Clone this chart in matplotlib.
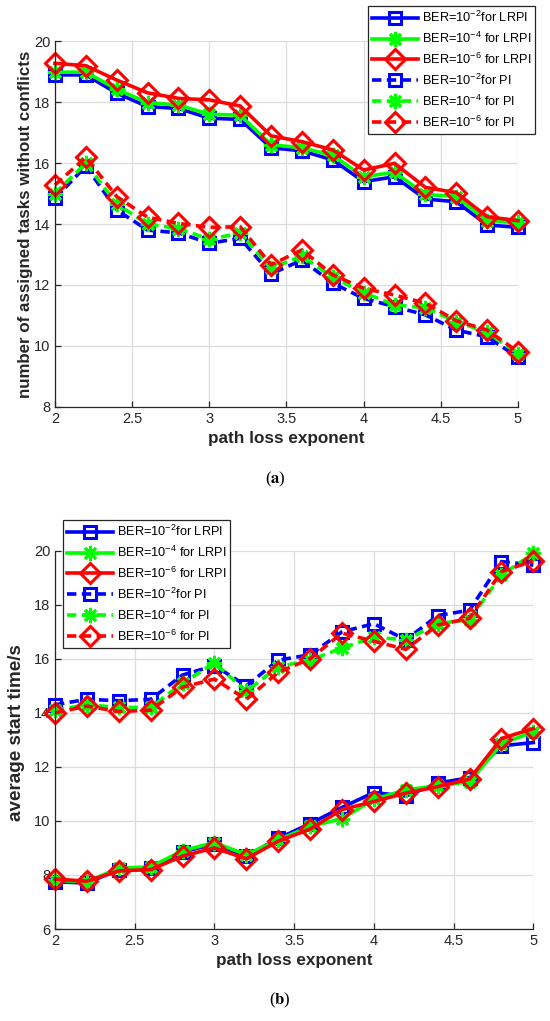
import matplotlib
matplotlib.use("Agg")
import matplotlib.pyplot as plt
import numpy as np

x = [2.0, 2.2, 2.4, 2.6, 2.8, 3.0, 3.2, 3.4, 3.6, 3.8, 4.0, 4.2, 4.4, 4.6, 4.8, 5.0]

labels = ['BER=10$^{-2}$for LRPI', 'BER=10$^{-4}$ for LRPI', 'BER=10$^{-6}$ for LRPI',
          'BER=10$^{-2}$for PI', 'BER=10$^{-4}$ for PI', 'BER=10$^{-6}$ for PI']

top_lrpi_1e2 = [18.89, 18.89, 18.29, 17.85, 17.79, 17.47, 17.43, 16.5, 16.4, 16.1, 15.39, 15.55, 14.82, 14.73, 13.97, 13.89]
top_lrpi_1e4 = [18.98, 18.98, 18.42, 17.98, 17.9, 17.6, 17.57, 16.6, 16.5, 16.25, 15.55, 15.7, 14.97, 14.9, 14.1, 14.05]
top_lrpi_1e6 = [19.27, 19.19, 18.72, 18.3, 18.12, 18.07, 17.87, 16.89, 16.7, 16.43, 15.77, 15.99, 15.2, 15.03, 14.24, 14.11]
top_pi_1e2 = [14.84, 15.9, 14.46, 13.8, 13.71, 13.37, 13.53, 12.36, 12.82, 12.06, 11.56, 11.29, 11.02, 10.52, 10.3, 9.63]
top_pi_1e4 = [15.0, 16.0, 14.65, 14.0, 13.85, 13.5, 13.7, 12.55, 12.95, 12.25, 11.75, 11.35, 11.25, 10.8, 10.45, 9.75]
top_pi_1e6 = [15.28, 16.19, 14.9, 14.22, 14.02, 13.89, 13.91, 12.66, 13.15, 12.33, 11.89, 11.67, 11.4, 10.83, 10.52, 9.81]

bot_lrpi_1e2 = [7.75, 7.7, 8.2, 8.25, 8.85, 9.15, 8.7, 9.35, 9.9, 10.5, 11.05, 10.92, 11.4, 11.6, 12.78, 12.9]
bot_lrpi_1e4 = [7.8, 7.75, 8.25, 8.3, 8.9, 9.2, 8.75, 9.3, 9.8, 10.08, 10.8, 11.15, 11.3, 11.45, 12.85, 13.3]
bot_lrpi_1e6 = [7.85, 7.77, 8.15, 8.2, 8.7, 9.0, 8.6, 9.25, 9.7, 10.42, 10.72, 11.03, 11.27, 11.55, 13.05, 13.42]
bot_pi_1e2 = [14.3, 14.5, 14.45, 14.5, 15.4, 15.75, 15.0, 15.95, 16.15, 17.0, 17.3, 16.7, 17.6, 17.8, 19.6, 19.47]
bot_pi_1e4 = [14.1, 14.3, 14.2, 14.2, 15.1, 15.85, 14.8, 15.7, 15.95, 16.4, 16.8, 16.7, 17.3, 17.45, 19.1, 19.9]
bot_pi_1e6 = [14.0, 14.25, 14.05, 14.1, 14.95, 15.25, 14.5, 15.5, 16.0, 16.95, 16.65, 16.35, 17.25, 17.5, 19.23, 19.62]

x_ticks = [2, 2.5, 3, 3.5, 4, 4.5, 5]
x_ticklabels = ['2', '2.5', '3', '3.5', '4', '4.5', '5']
top_yticks = [8, 10, 12, 14, 16, 18, 20]
bot_yticks = [6, 8, 10, 12, 14, 16, 18, 20]

plt.rcParams['font.family'] = ['Liberation Sans', 'DejaVu Sans']
plt.rcParams['mathtext.fontset'] = 'custom'
plt.rcParams['mathtext.rm'] = 'Liberation Sans'

fig = plt.figure(figsize=(5.5, 10.21), dpi=100)
ax1 = fig.add_axes([0.1, 0.6014, 0.8418, 0.3584])
ax2 = fig.add_axes([0.1, 0.0901, 0.8697, 0.3705])

colors = ['#0000ff', '#00ff00', '#ff0000']
markers = ['s', (8, 2, 0), 'D']
msizes = [9, 11, 10]
dash = (0, (2.6, 1.5))
axcol = '#262626'


def draw(ax, lrpi, pi):
    handles = []
    for ser, c, m, ms in zip(lrpi, colors, markers, msizes):
        h, = ax.plot(x, ser, color=c, marker=m, markersize=ms, markerfacecolor='none',
                     markeredgecolor=c, markeredgewidth=2.2, linewidth=2.6, linestyle='-',
                     clip_on=False)
        handles.append(h)
    for ser, c, m, ms in zip(pi, colors, markers, msizes):
        h, = ax.plot(x, ser, color=c, marker=m, markersize=ms, markerfacecolor='none',
                     markeredgecolor=c, markeredgewidth=2.2, linewidth=2.6, linestyle=dash,
                     clip_on=False)
        handles.append(h)
    ax.set_xlim(2, 5)
    ax.set_xticks(x_ticks)
    ax.set_xticklabels(x_ticklabels)
    ax.grid(True, color='#dcdcdc', linewidth=0.9)
    ax.set_axisbelow(True)
    for s in ['top', 'right']:
        ax.spines[s].set_visible(False)
    for s in ['left', 'bottom']:
        ax.spines[s].set_color(axcol)
        ax.spines[s].set_linewidth(0.9)
    ax.tick_params(direction='in', length=4, width=0.9, colors=axcol, labelsize=10.5, labelcolor=axcol)
    ax.set_xlabel('path loss exponent', fontsize=12.3, fontweight='bold', color=axcol, labelpad=4)
    return handles


h1 = draw(ax1, [top_lrpi_1e2, top_lrpi_1e4, top_lrpi_1e6], [top_pi_1e2, top_pi_1e4, top_pi_1e6])
ax1.set_ylim(8, 20)
ax1.set_yticks(top_yticks)
ax1.set_ylabel('number of assigned tasks without conflicts', fontsize=12.2, fontweight='bold', color=axcol)
ax1.yaxis.set_label_coords(-0.0475, 0.5)

h2 = draw(ax2, [bot_lrpi_1e2, bot_lrpi_1e4, bot_lrpi_1e6], [bot_pi_1e2, bot_pi_1e4, bot_pi_1e6])
ax2.set_ylim(6, 20)
ax2.set_yticks(bot_yticks)
ax2.set_ylabel('average start time/s', fontsize=13.6, fontweight='bold', color=axcol)
ax2.yaxis.set_label_coords(-0.062, 0.52)

leg_kw = dict(fontsize=9.2, handlelength=3.6, frameon=True, fancybox=False, borderpad=0.3,
              labelspacing=0.45, handletextpad=0.3, borderaxespad=0)
leg1 = fig.legend(h1, labels, loc='upper right', bbox_to_anchor=(535 / 550, 1 - 6 / 1021), **leg_kw)
leg2 = fig.legend(h2, labels, loc='upper left', bbox_to_anchor=(63 / 550, 1 - 520 / 1021), **leg_kw)
for lg in (leg1, leg2):
    lg.get_frame().set_edgecolor(axcol)
    lg.get_frame().set_linewidth(0.9)
    lg.get_frame().set_alpha(1)

fig.text(275 / 550, 1 - 479 / 1021, r'($\mathbf{a}$)', ha='center', va='center', fontsize=12,
         family='Liberation Serif', math_fontfamily='stix')
fig.text(280 / 550, 1 - 1000 / 1021, r'($\mathbf{b}$)', ha='center', va='center', fontsize=12,
         family='Liberation Serif', math_fontfamily='stix')

fig.savefig('out.png', dpi=100)
